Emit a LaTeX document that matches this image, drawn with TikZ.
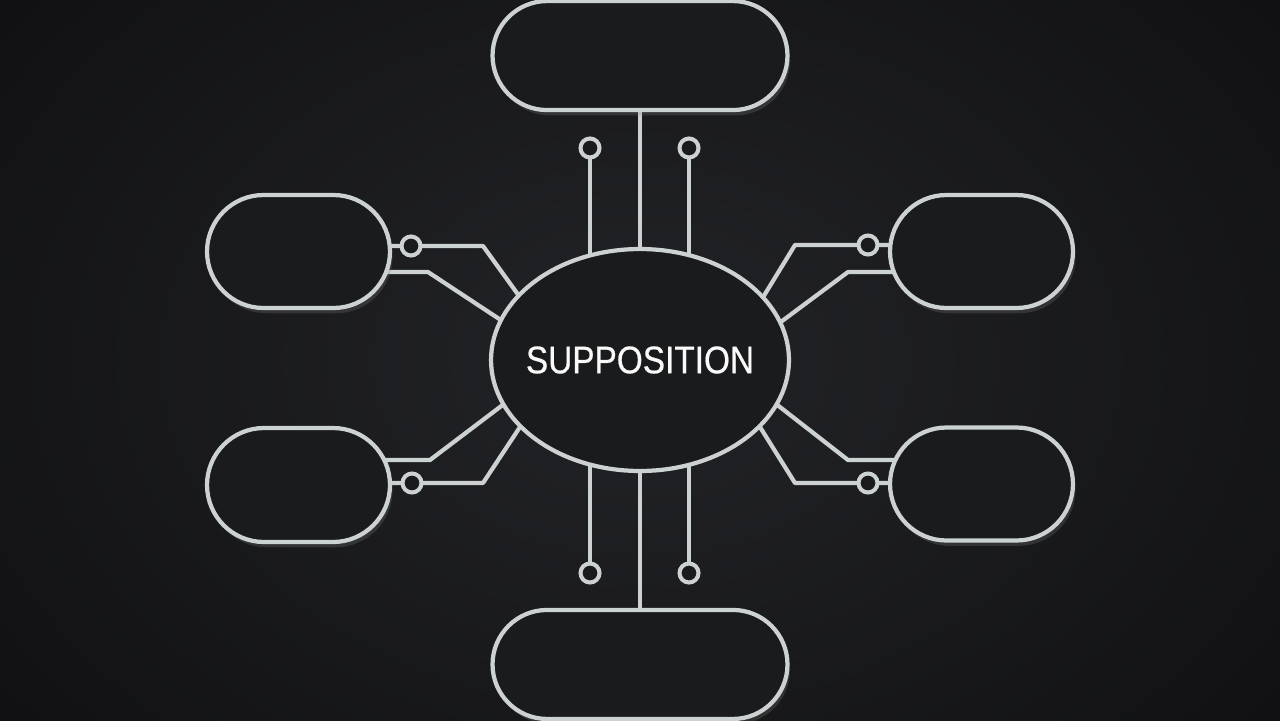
\documentclass[tikz,border=0pt]{standalone}
\usepackage{fontspec}
\usepackage{xcolor}
\usetikzlibrary{positioning,shapes.misc,shapes.geometric,backgrounds,shadows}
\newfontfamily\labelfont[FakeBold=0.6]{Liberation Sans}
\definecolor{wirecol}{RGB}{204,210,210}
\definecolor{boxbg}{RGB}{26,27,29}
\definecolor{bgin}{RGB}{35,36,39}
\definecolor{bgout}{RGB}{16,16,18}
\tikzstyle{bubble} = [rounded rectangle, draw=wirecol, fill=boxbg, line width=2.4pt, inner sep=0pt, outer sep=0pt, drop shadow={shadow xshift=1.5pt, shadow yshift=-3pt, opacity=.25}]
\tikzstyle{hub} = [ellipse, draw=wirecol, fill=boxbg, line width=2.4pt, inner xsep=-0.3cm, inner ysep=0pt, outer sep=0pt, minimum width=5.96cm, minimum height=4.44cm, text=white!90!wirecol, font=\labelfont\fontsize{19}{19}\selectfont]
\tikzstyle{pin} = [circle, draw=wirecol, fill=boxbg, line width=2.3pt, minimum size=0.38cm, inner sep=0pt, outer sep=0pt]
\tikzstyle{wire} = [draw=wirecol, line width=2.4pt, line join=round]

\begin{document}
\begin{tikzpicture}[x=0.02cm, y=-0.02cm, node distance=2.78cm]
\useasboundingbox (0,0) rectangle (1280,720);
\node (ell) [hub] at (640,360) {\raisebox{-0.06cm}{\scalebox{1}[1.15]{SUPPOSITION}}};
\node (top) [bubble, minimum width=5.9cm, minimum height=2.18cm, above = of ell] {};
\node (bot) [bubble, minimum width=5.9cm, minimum height=2.18cm, below = of ell] {};
\node (lu) [bubble, minimum width=3.66cm, minimum height=2.26cm] at (298.5,251.5) {};
\node (ll) [bubble, minimum width=3.66cm, minimum height=2.28cm] at (298.5,485) {};
\node (ru) [bubble, minimum width=3.66cm, minimum height=2.26cm] at (981.5,251.5) {};
\node (rl) [bubble, minimum width=3.66cm, minimum height=2.26cm] at (981.5,484) {};
% pins
\node (tl) [pin] at (590,148) {};
\node (tr) [pin] at (689,148) {};
\node (bl) [pin] at (590,573) {};
\node (br) [pin] at (689,573) {};
\node (lup) [pin] at (411,246) {};
\node (llp) [pin] at (412,483) {};
\node (rup) [pin] at (868,245) {};
\node (rlp) [pin] at (868,483) {};
\begin{scope}[on background layer]
\shade[inner color=bgin, outer color=bgout] (-200,-250) rectangle (1480,970);
% top and bottom
\draw [wire] (top) -- (ell);
\draw [wire] (ell) -- (bot);
\draw [wire] (tl) -- (tl |- ell.115.5);
\draw [wire] (tr) -- (tr |- ell.64.9);
\draw [wire] (bl) -- (bl |- ell.-115.5);
\draw [wire] (br) -- (br |- ell.-64.9);
% left side
\draw [wire] (lu |- lup) -- (483,246) -- (ell.152);
\draw [wire] (lu |- 428,272) -- (428,272) -- (ell.164);
\draw [wire] (ll |- 430,460) -- (430,460) -- (ell.198);
\draw [wire] (ll |- llp) -- (483,483) -- (ell.209);
% right side
\draw [wire] (ru |- rup) -- (795,245) -- (ell.27);
\draw [wire] (ru |- 848,272) -- (848,272) -- (ell.15);
\draw [wire] (rl |- 848,460) -- (848,460) -- (ell.-18);
\draw [wire] (rl |- rlp) -- (795,483) -- (ell.-29);
\end{scope}
\end{tikzpicture}
\end{document}
